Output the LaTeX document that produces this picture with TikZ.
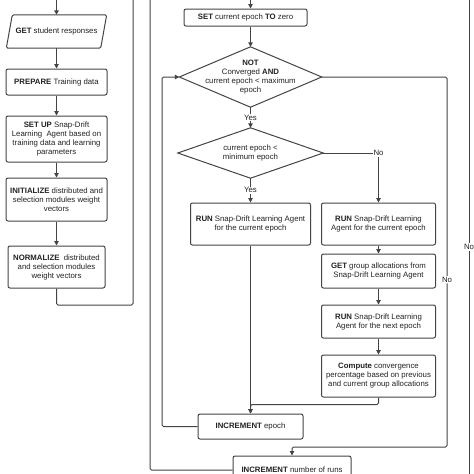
\documentclass[tikz,border=0pt]{standalone}
\usepackage{fontspec}
\setmainfont{Liberation Sans}
\usetikzlibrary{arrows.meta}
\definecolor{lc}{HTML}{444444}
\definecolor{tc}{HTML}{222222}
\newcommand\myfs{\fontsize{7.8}{9}\selectfont}
\begin{document}
\begin{tikzpicture}[x=1pt,y=-1pt,
  ln/.style={draw=lc, line width=1pt},
  arr/.style={ln, -{Triangle[length=4.5pt,width=4.5pt]}},
  box/.style={draw=lc, line width=1pt, rounded corners=2pt, fill=white, align=center, inner sep=0pt, font=\myfs, text=tc},
  plain/.style={draw=none, align=center, inner sep=0pt, font=\myfs, text=tc},
  lbl/.style={fill=white, inner sep=1pt, font=\myfs, text=tc}]
\useasboundingbox (0,0) rectangle (474,474);
\fill[white] (0,0) rectangle (474,474);
\clip (0,0) rectangle (474,474);

% ---------- left column ----------
\coordinate (ltop) at (56.5,0);
\node[plain, minimum width=94, minimum height=33] (getn) at (56.5,31.5) {\textbf{GET} student responses};
\draw[ln, rounded corners=1.5pt] ([xshift=3pt]getn.north west) -- ([xshift=3pt]getn.north east)
  -- ([xshift=-3pt]getn.south east) -- ([xshift=-3pt]getn.south west) -- cycle;
\node[box, minimum width=101, minimum height=26] (prep) at (56.5,82) {\textbf{PREPARE} Training data};
\node[box, minimum width=101, minimum height=46] (setup) at (56.5,139) {\textbf{SET UP} Snap-Drift\\Learning~ Agent based on\\training data and learning\\parameters};
\node[box, minimum width=101, minimum height=43] (init) at (56.5,199.5) {\textbf{INITIALIZE} distributed and\\selection modules weight\\vectors};
\node[box, minimum width=97, minimum height=42] (norm) at (56.5,267) {\textbf{NORMALIZE}~ distributed\\and selection modules\\weight vectors};

\draw[arr] (ltop) -- (getn.north);
\draw[arr] (getn.south) -- (prep.north);
\draw[arr] (prep.south) -- (setup.north);
\draw[arr] (setup.south) -- (init.north);
\draw[arr] (init.south) -- (norm.north);

\coordinate (c1) at (133,305);
\coordinate (c1top) at (133,0);
\draw[ln, rounded corners=1.5pt] (norm.south) |- (c1) -- (c1top);

% ---------- middle ----------
\coordinate (mtop) at (250.5,0);
\node[box, minimum width=123, minimum height=17] (set) at (245.5,17.5) {\textbf{SET} current epoch \textbf{TO} zero};
\node[plain, minimum width=142, minimum height=60] (d1) at (250.5,77) {\textbf{NOT}\\Converged \textbf{AND}\\current epoch {\textless} maximum\\epoch};
\draw[ln] (d1.north) -- (d1.east) -- (d1.south) -- (d1.west) -- cycle;
\node[plain, minimum width=145, minimum height=50] (d2) at (250.5,153) {current epoch {\textless}\\minimum epoch};
\draw[ln] (d2.north) -- (d2.east) -- (d2.south) -- (d2.west) -- cycle;

\node[box, minimum width=120, minimum height=42] (run1) at (250.5,224) {\textbf{RUN} Snap-Drift Learning Agent\\for the current epoch};
\node[box, minimum width=114, minimum height=42] (run2) at (378.5,224) {\textbf{RUN} Snap-Drift Learning\\Agent for the current epoch};
\node[box, minimum width=114, minimum height=34] (get2) at (378.5,271) {\textbf{GET} group allocations from\\Snap-Drift Learning Agent};
\node[box, minimum width=114, minimum height=33] (run3) at (378.5,321.5) {\textbf{RUN} Snap-Drift Learning\\Agent for the next epoch};
\node[box, minimum width=114, minimum height=42] (comp) at (378.5,376) {\textbf{Compute} convergence\\percentage based on previous\\and current group allocations};
\node[box, minimum width=105, minimum height=25] (inc) at (250.5,426.5) {\textbf{INCREMENT} epoch};
\node[box, minimum width=118, minimum height=28] (runs) at (292,470) {\textbf{INCREMENT} number of runs};

\draw[arr] (mtop) -- (mtop |- set.north);
\draw[arr] (set.south -| d1.north) -- (d1.north);
\draw[arr] (d1.south) -- node[lbl]{Yes} (d2.north);
\draw[arr] (d2.south) -- node[lbl]{Yes} (run1.north);
\draw[arr] (d2.east) -| node[lbl, pos=0.5]{No} (run2.north);
\draw[arr] (run2.south) -- (get2.north);
\draw[arr] (get2.south) -- (run3.north);
\draw[arr] (run3.south) -- (comp.north);
\draw[arr] (run1.south) -- (inc.north);
\draw[arr, rounded corners=1.5pt] (comp.south) -- ++(0,7) -| (inc.north);

\coordinate (c3) at (162,77);
\draw[arr, rounded corners=1.5pt] (inc.west) -| (c3) -- (d1.west);

\coordinate (c4) at (447,447);
\draw[arr, rounded corners=1.5pt] (d1.east) -| node[lbl, pos=0.774]{No} (c4) -| (runs.north);

\coordinate (c2top) at (150,0);
\draw[ln, rounded corners=1.5pt] (c2top) |- (runs.west);

\coordinate (c5a) at (469,0);
\coordinate (c5b) at (469,474);
\draw[ln] (c5a) -- node[lbl, pos=0.521]{No} (c5b);
\end{tikzpicture}
\end{document}
